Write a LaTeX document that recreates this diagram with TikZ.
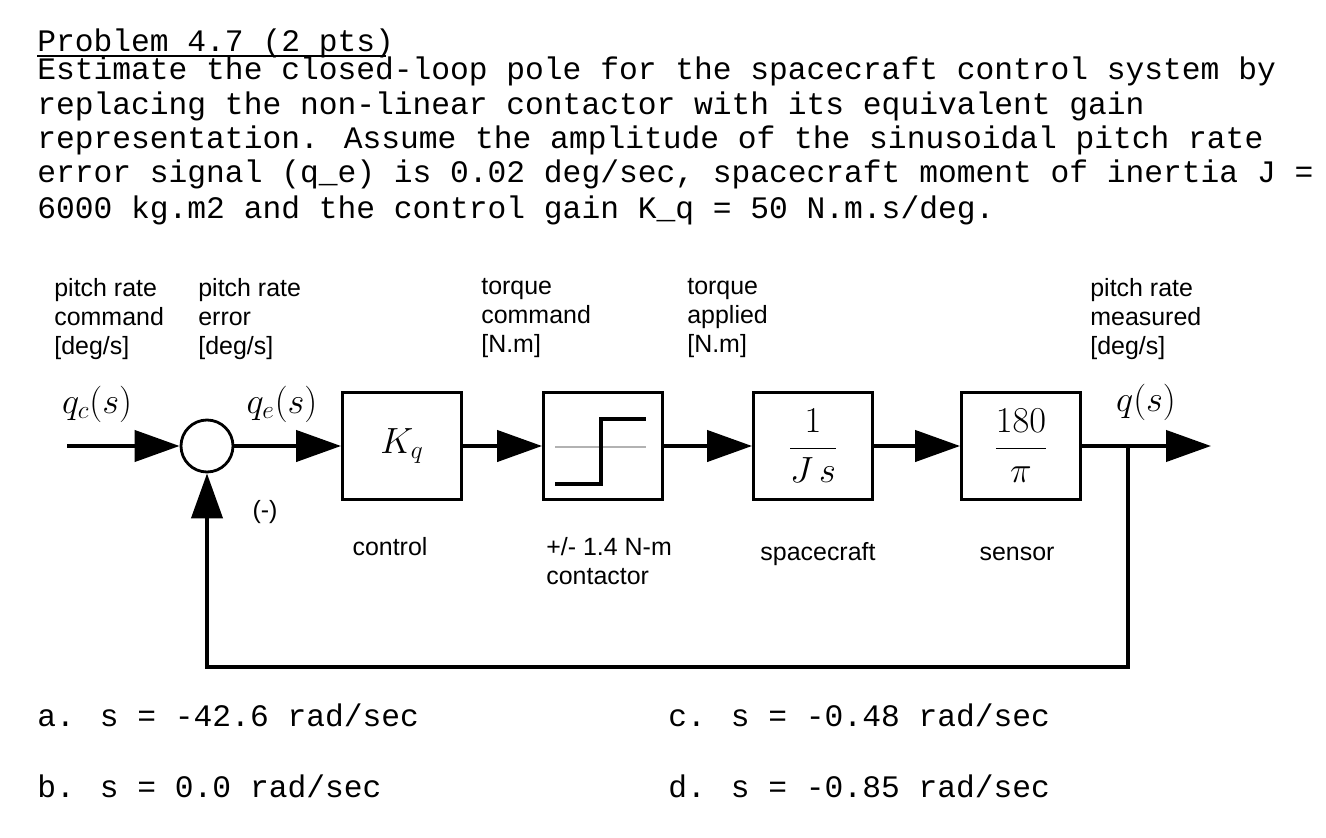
\documentclass[tikz,border=0pt]{standalone}
\usepackage{fontspec}
\setmainfont{Liberation Sans}
\newfontfamily\monof{Liberation Mono}
\usetikzlibrary{arrows.meta}
\begin{document}
\begin{tikzpicture}[x=0.02cm,y=-0.02cm,
  blk/.style={draw,line width=1.6pt,minimum width=119*0.02cm,minimum height=107*0.02cm,inner sep=0pt},
  sig/.style={line width=2.4pt,-{Triangle[length=0.9cm,width=0.62cm]}},
  wire/.style={line width=2.4pt},
  mono/.style={anchor=base west,inner sep=0pt,font=\monof\fontsize{17.8}{20}\selectfont},
  lab/.style={anchor=north west,inner sep=0pt,align=left,font=\fontsize{14.2}{16.5}\selectfont},
  captxt/.style={anchor=base,inner sep=0pt,font=\fontsize{14.2}{16.5}\selectfont},
  mlab/.style={inner sep=0pt,font=\fontsize{22}{24}\selectfont}]
\useasboundingbox (0,0) rectangle (1326,838);
% text
\node[mono] (t0) at (37,52) {Problem 4.7 (2 pts)};
\draw[line width=0.8pt] (37,56) -- (386,56);
\node[mono] (t1) at (37,80) {Estimate the closed-loop pole for the spacecraft control system by};
\node[mono] (t2) at (37,114) {replacing the non-linear contactor with its equivalent gain};
\node[mono] (t3) at (37,149) {representation. Assume the amplitude of the sinusoidal pitch rate};
\node[mono] (t4) at (37,183) {error signal (q\_e) is 0.02 deg/sec, spacecraft moment of inertia J =};
\node[mono] (t5) at (37,218) {6000 kg.m2 and the control gain K\_q = 50 N.m.s/deg.};
% labels
\node[lab] (l1) at (54,278) {pitch rate\\command\\{[deg/s]}};
\node[lab] (l2) at (198,278) {pitch rate\\error\\{[deg/s]}};
\node[lab] (l3) at (481,278) {torque\\command\\{[N.m]}};
\node[lab] (l4) at (687,278) {torque\\applied\\{[N.m]}};
\node[lab] (l5) at (1090,278) {pitch rate\\measured\\{[deg/s]}};
% math labels
\node[mlab] (qc) at (97,404) {$q_c(s)$};
\node[mlab] (qe) at (282,404) {$q_e(s)$};
\node[mlab] (q) at (1146,402) {$q(s)$};
% blocks
\node[draw,circle,line width=1.6pt,minimum size=52*0.02cm,inner sep=0pt] (sum) at (207,446) {};
\node[blk] (kq) at (402,446) {\fontsize{22}{24}\selectfont$K_q$};
\node[blk] (ct) at (603,446) {};
\node[blk] (pl) at (813,446) {\fontsize{20}{24}\selectfont$\displaystyle\frac{1}{J\,s}$};
\node[blk] (se) at (1021,446) {\fontsize{20}{24}\selectfont$\displaystyle\frac{180}{\pi}$};
\draw[gray!60,line width=1pt] (555,447) -- (646,447);
\draw[line width=2pt] (555,484) -- (601,484) -- (601,419) -- (646,419);
% connectors
\coordinate (in) at (67,446);
\coordinate (tap) at (1128,446);
\coordinate (out) at (1211,446);
\coordinate (bl) at (1128,667);
\coordinate (br) at (207,667);
\draw[sig] (in) -- (sum);
\draw[sig] (sum) -- (kq);
\draw[sig] (kq) -- (ct);
\draw[sig] (ct) -- (pl);
\draw[sig] (pl) -- (se);
\draw[sig] (se) -- (out);
\draw[wire,line join=miter] (tap) -- (bl) -- (br) -- ++(0,-20);
\draw[sig] (br) -- (sum);
% captions
\node[captxt] (m) at (265,518) {(-)};
\node[captxt] (c1) at (390,555) {control};
\node[captxt,anchor=base west] (c2) at (546,555) {+/- 1.4 N-m};
\node[captxt,anchor=base west] (c3) at (546,584) {contactor};
\node[captxt] (c4) at (818,560) {spacecraft};
\node[captxt] (c5) at (1017,560) {sensor};
% answers
\node[mono] (a) at (37,726) {a. s = -42.6 rad/sec};
\node[mono] (c) at (668,726) {c. s = -0.48 rad/sec};
\node[mono] (b) at (37,797) {b. s = 0.0 rad/sec};
\node[mono] (d) at (668,797) {d. s = -0.85 rad/sec};
\end{tikzpicture}
\end{document}
